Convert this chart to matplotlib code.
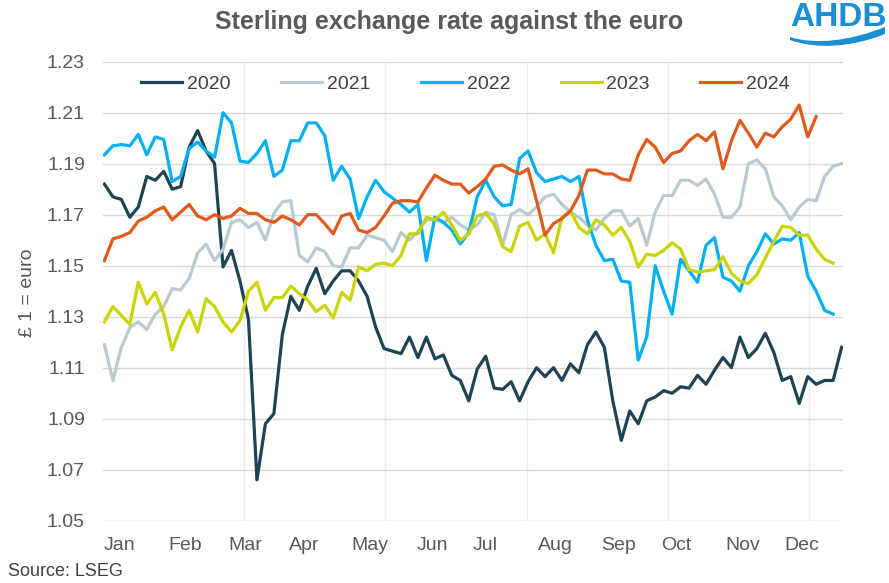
import matplotlib
matplotlib.use("Agg")
import numpy as np
import matplotlib.pyplot as plt
from matplotlib import font_manager
from matplotlib.path import Path
from matplotlib.patches import PathPatch

# --- DONNEES : taux GBP/EUR, une lecture tous les 3 jours ouvres ---
STEP = 3

rate_2020 = [1.182, 1.177, 1.176, 1.169, 1.173, 1.185, 1.1835, 1.187, 1.180, 1.181,
             1.1965, 1.203, 1.195, 1.190, 1.1495, 1.156, 1.144, 1.129, 1.066, 1.088,
             1.092, 1.123, 1.138, 1.1325, 1.142, 1.149, 1.139, 1.144, 1.148, 1.148,
             1.144, 1.138, 1.126, 1.1175, 1.1165, 1.1155, 1.122, 1.114, 1.122, 1.1135,
             1.115, 1.107, 1.105, 1.097, 1.1095, 1.1145, 1.102, 1.1015, 1.1045, 1.097,
             1.1045, 1.110, 1.1065, 1.110, 1.105, 1.1115, 1.108, 1.119, 1.124, 1.118,
             1.097, 1.0815, 1.093, 1.088, 1.097, 1.0985, 1.101, 1.100, 1.1025, 1.102,
             1.107, 1.1035, 1.109, 1.114, 1.110, 1.122, 1.114, 1.1175, 1.1235, 1.116,
             1.105, 1.1065, 1.096, 1.1065, 1.1035, 1.105, 1.105, 1.118]

rate_2021 = [1.119, 1.105, 1.118, 1.1257, 1.128, 1.125, 1.131, 1.134, 1.141, 1.1405,
             1.145, 1.155, 1.1585, 1.152, 1.1565, 1.167, 1.168, 1.165, 1.167, 1.160,
             1.1705, 1.175, 1.1755, 1.154, 1.1515, 1.157, 1.1555, 1.150, 1.1495, 1.157,
             1.157, 1.162, 1.161, 1.160, 1.1555, 1.163, 1.160, 1.1635, 1.168, 1.168,
             1.167, 1.169, 1.166, 1.164, 1.166, 1.171, 1.170, 1.158, 1.170, 1.172,
             1.170, 1.173, 1.177, 1.178, 1.174, 1.171, 1.169, 1.166, 1.164, 1.1685,
             1.1715, 1.1715, 1.1655, 1.1685, 1.158, 1.171, 1.1775, 1.1775, 1.1835, 1.1835,
             1.1815, 1.184, 1.178, 1.169, 1.169, 1.173, 1.190, 1.1915, 1.188, 1.177,
             1.1735, 1.168, 1.173, 1.176, 1.1755, 1.185, 1.189, 1.190]

rate_2022 = [1.1935, 1.197, 1.1975, 1.197, 1.2015, 1.1935, 1.2005, 1.1995, 1.183, 1.185,
             1.196, 1.1985, 1.195, 1.1925, 1.210, 1.206, 1.191, 1.1905, 1.194, 1.199,
             1.185, 1.1875, 1.199, 1.199, 1.206, 1.206, 1.201, 1.1835, 1.189, 1.184,
             1.1685, 1.177, 1.1835, 1.179, 1.1765, 1.174, 1.171, 1.174, 1.152, 1.169,
             1.167, 1.164, 1.1585, 1.163, 1.177, 1.1835, 1.177, 1.1735, 1.174, 1.192,
             1.195, 1.1865, 1.183, 1.184, 1.185, 1.183, 1.185, 1.168, 1.158, 1.152,
             1.1525, 1.144, 1.1435, 1.113, 1.122, 1.150, 1.140, 1.131, 1.1525, 1.148,
             1.1435, 1.158, 1.161, 1.1455, 1.144, 1.140, 1.150, 1.1555, 1.1625, 1.1585,
             1.1605, 1.160, 1.163, 1.146, 1.140, 1.1325, 1.131]

rate_2023 = [1.128, 1.134, 1.1305, 1.127, 1.1435, 1.135, 1.1395, 1.131, 1.117, 1.126,
             1.1325, 1.124, 1.137, 1.134, 1.128, 1.124, 1.1285, 1.140, 1.1435, 1.1325,
             1.1375, 1.1375, 1.142, 1.139, 1.1365, 1.132, 1.1345, 1.1295, 1.1395, 1.1365,
             1.1495, 1.148, 1.1505, 1.151, 1.150, 1.154, 1.1625, 1.1625, 1.169, 1.168,
             1.171, 1.166, 1.160, 1.1625, 1.1695, 1.1705, 1.1665, 1.1575, 1.1555, 1.1655,
             1.167, 1.160, 1.1625, 1.155, 1.169, 1.1715, 1.165, 1.1625, 1.168, 1.166,
             1.162, 1.165, 1.1595, 1.1495, 1.1545, 1.154, 1.156, 1.159, 1.1565, 1.1485,
             1.1475, 1.148, 1.1485, 1.1535, 1.147, 1.144, 1.143, 1.1465, 1.153, 1.1595,
             1.1655, 1.165, 1.162, 1.162, 1.1565, 1.1525, 1.151]

rate_2024 = [1.152, 1.1605, 1.1615, 1.163, 1.1675, 1.169, 1.1715, 1.173, 1.168, 1.171,
             1.174, 1.1695, 1.168, 1.170, 1.1685, 1.1695, 1.1725, 1.1705, 1.1705, 1.168,
             1.167, 1.1695, 1.168, 1.166, 1.170, 1.170, 1.1665, 1.1625, 1.1695, 1.1705,
             1.164, 1.163, 1.165, 1.1695, 1.1745, 1.1755, 1.1755, 1.175, 1.1805, 1.1855,
             1.1835, 1.182, 1.182, 1.1785, 1.181, 1.184, 1.189, 1.1895, 1.1875, 1.186,
             1.188, 1.1755, 1.162, 1.1665, 1.1685, 1.1715, 1.1775, 1.1875, 1.1875, 1.186,
             1.186, 1.184, 1.1835, 1.1935, 1.1995, 1.1965, 1.1905, 1.194, 1.195, 1.199,
             1.2015, 1.199, 1.2025, 1.188, 1.199, 1.207, 1.202, 1.1965, 1.202, 1.2005,
             1.2045, 1.2075, 1.213, 1.2005, 1.2085]

years = ["2020", "2021", "2022", "2023", "2024"]
series = [rate_2020, rate_2021, rate_2022, rate_2023, rate_2024]
colours = ["#1e4453", "#b8c9d1", "#00b0f0", "#c9d400", "#e05a1c"]

months = ["Jan", "Feb", "Mar", "Apr", "May", "Jun",
          "Jul", "Aug", "Sep", "Oct", "Nov", "Dec"]

# --- POLICES ---
installed = {f.name for f in font_manager.fontManager.ttflist}
narrow = "Liberation Sans Narrow" if "Liberation Sans Narrow" in installed else "Liberation Sans"
plt.rcParams['font.family'] = ['Liberation Sans', 'DejaVu Sans']

# --- FIGURE ---
W, H = 889, 583
fig = plt.figure(figsize=(W / 100, H / 100), dpi=100)
ax = fig.add_axes([103 / W, 1 - 520.7 / H, 740 / W, 459 / H])

for name, vals, col in zip(years, series, colours):
    x = np.arange(len(vals)) * STEP
    ax.plot(x, vals, color=col, lw=2.3, label=name, solid_joinstyle='round')

ax.set_xlim(-0.5, 261.5)
ax.set_ylim(1.05, 1.23)
yt = np.arange(1.05, 1.2301, 0.02)
ax.set_yticks(yt)
ax.set_yticklabels([f"{v:.2f}" for v in yt], fontsize=14, color="#595959")

month_ticks = [5.5, 28.5, 50, 70.7, 94, 116, 134.8, 159.6, 181.9, 202.4, 226, 247]
ax.set_xticks(month_ticks)
ax.set_xticklabels(months, fontsize=14, color="#595959", family=narrow)
ax.set_xticks([49.5, 99.5, 149.5, 199.5, 249.5], minor=True)

ax.tick_params(axis='y', length=0, pad=13)
ax.tick_params(axis='x', which='both', length=0, pad=12)
ax.yaxis.grid(True, color="#d9d9d9", lw=1.0)
ax.xaxis.grid(True, which='minor', color="#eeeeee", lw=0.9)
ax.set_axisbelow(True)
for s in ax.spines.values():
    s.set_visible(False)

leg = ax.legend(ncol=5, loc='center', bbox_to_anchor=(0.49, 0.951), frameon=False,
                fontsize=14, handlelength=2.1, handletextpad=0.25, columnspacing=2.6)
for t in leg.get_texts():
    t.set_color("#404040")

fig.text(449 / W, 1 - 22 / H, "Sterling exchange rate against the euro", ha='center', va='center',
         fontsize=18, fontweight='bold', color="#595959", family=narrow)
fig.text(28 / W, 1 - 293 / H, "£ 1 = euro", rotation=90, ha='center', va='center',
         fontsize=14, color="#595959")
fig.text(8 / W, 1 - 572 / H, "Source: LSEG", ha='left', va='center', fontsize=13, color="#404040")

# logo AHDB
fig.text(838 / W, 1 - 18 / H, "AHDB", ha='center', va='center', fontsize=24,
         fontweight='bold', color="#1a8fd4", family=narrow)
wave = [(790, 37), (815, 45), (850, 41), (885, 27), (885, 34), (850, 48), (815, 49), (790, 40), (790, 37)]
codes = [Path.MOVETO, Path.CURVE4, Path.CURVE4, Path.CURVE4, Path.LINETO,
         Path.CURVE4, Path.CURVE4, Path.CURVE4, Path.CLOSEPOLY]
verts = [(px / W, 1 - py / H) for px, py in wave]
fig.patches.append(PathPatch(Path(verts, codes), transform=fig.transFigure,
                             facecolor="#1a8fd4", edgecolor='none'))

fig.savefig("out.png", dpi=100)
